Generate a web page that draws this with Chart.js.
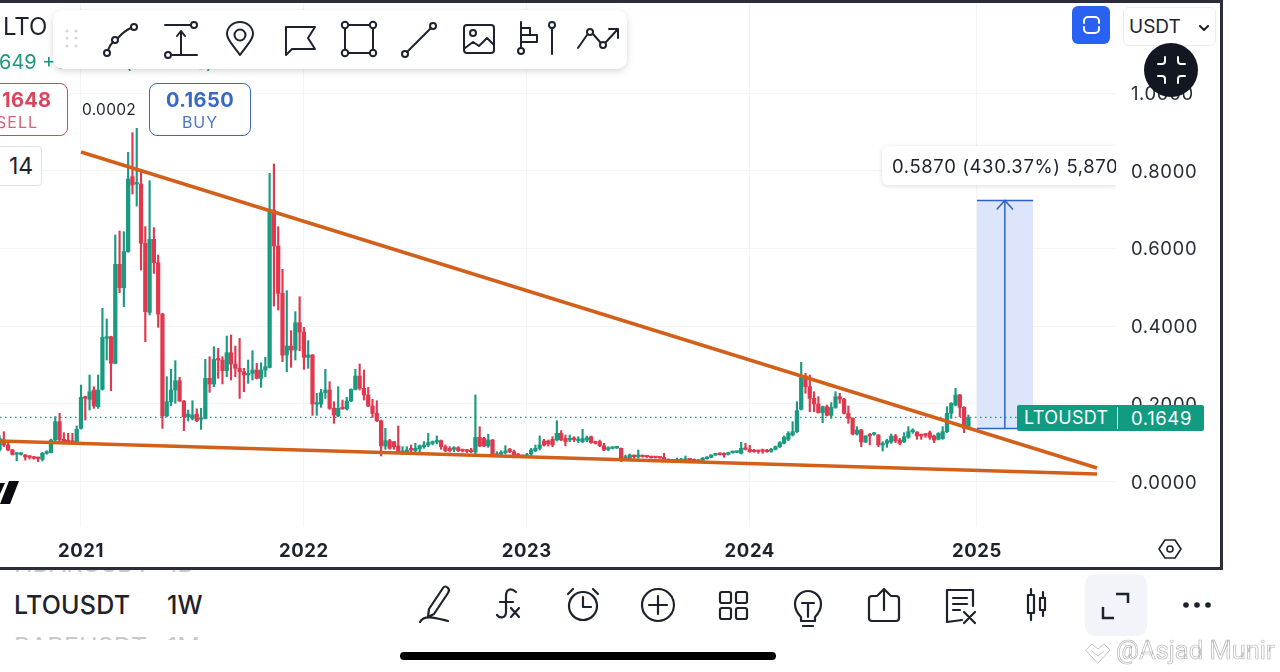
<!DOCTYPE html>
<html>
<head>
<meta charset="utf-8">
<title>LTOUSDT 1W</title>
<script src="https://cdn.jsdelivr.net/npm/chart.js@4"></script>
<style>
	html, body { margin: 0; padding: 0; background: #fff; }
	body { width: 1280px; height: 672px; position: relative; overflow: hidden; font-family: Inter, "Noto Sans", sans-serif; color: #1e222d; }
	#frame { position: absolute; left: 0; top: 0; width: 1223px; height: 570px; box-sizing: border-box; border-top: 3px solid #2c2d3a; border-right: 3px solid #2c2d3a; border-bottom: 3px solid #2c2d3a; }
	#chart { display: block; }
	.abs { position: absolute; white-space: nowrap; }
	.box { position: absolute; box-sizing: border-box; background: #fff; }
	#icons { position: absolute; left: 0; top: 0; }
</style>
</head>
<body>
<div id="frame"><canvas id="chart" width="1220" height="564"></canvas></div>

<!-- header text behind the drawing toolbar -->
<div class="abs" style="left:3px;top:12px;font-size:24px;">LTO</div>
<div class="abs" style="left:-1px;top:50px;font-size:20px;color:#1a9a80;">649 +0.0041 (+2.55%)</div>

<div class="box" style="left:-10px;top:83px;width:78px;height:53px;border:1.5px solid #d9455c;border-radius:8px;"></div>
<div class="abs" style="left:2px;top:88px;font-size:20px;font-weight:700;color:#d9455c;letter-spacing:.3px;">1648</div>
<div class="abs" style="left:-4px;top:112px;font-size:16px;color:#d9607a;letter-spacing:1px;">SELL</div>
<div class="abs" style="left:82px;top:100px;font-size:15.5px;letter-spacing:.3px;">0.0002</div>
<div class="box" style="left:149px;top:83px;width:102px;height:53px;border:1.5px solid #3b68c6;border-radius:8px;"></div>
<div class="abs" style="left:149px;width:102px;text-align:center;top:88px;font-size:20px;font-weight:700;color:#3b68c6;letter-spacing:.4px;">0.1650</div>
<div class="abs" style="left:149px;width:102px;text-align:center;top:112px;font-size:16px;color:#4d74c8;letter-spacing:1px;">BUY</div>
<div class="box" style="left:-8px;top:146px;width:50px;height:40px;border:1.5px solid #e2e2e2;border-radius:4px;"></div>
<div class="abs" style="left:9px;top:152px;font-size:23px;">14</div>

<!-- position tool label, cut at the price axis -->
<div class="box" style="left:882px;top:146px;width:234px;height:39px;border-radius:6px 0 0 6px;box-shadow:0 1px 5px rgba(0,0,0,.14);clip-path:inset(-8px 0 -8px -8px);"></div>
<div class="abs" style="left:892px;top:155px;font-size:18.5px;letter-spacing:.6px;width:224px;overflow:hidden;">0.5870 (430.37%) 5,870</div>

<!-- last price tag -->
<div class="box" style="left:1017px;top:405px;width:187px;height:26px;background:#0f9c80;border-radius:2px;"></div>
<div class="abs" style="left:1024px;top:407px;font-size:18px;letter-spacing:.3px;color:#fff;">LTOUSDT</div>
<div class="box" style="left:1117px;top:407px;width:1px;height:22px;background:#d5efe9;"></div>
<div class="abs" style="left:1131px;top:407px;font-size:18.5px;letter-spacing:.6px;color:#fff;">0.1649</div>

<!-- drawing toolbar -->
<div class="box" style="left:53px;top:10px;width:574px;height:59px;border-radius:10px;box-shadow:0 2px 7px rgba(0,0,0,.16);"></div>

<!-- top right buttons -->
<div class="box" style="left:1072px;top:6px;width:38px;height:38px;background:#2962f0;border-radius:6px;"></div>
<div class="box" style="left:1123px;top:7px;width:93px;height:39px;border:1.5px solid #ececec;border-radius:6px;"></div>
<div class="abs" style="left:1129px;top:15px;font-size:19px;">USDT</div>

<!-- bottom bar -->
<div class="abs" style="left:0;top:570px;width:300px;height:8px;overflow:hidden;color:#c9c9c9;font-size:25px;"><span class="abs" style="left:14px;top:-22px;">HBARUSDT</span><span class="abs" style="left:167px;top:-22px;">1D</span></div>
<div class="abs" style="left:14px;top:590px;font-size:25px;font-weight:500;letter-spacing:.2px;">LTOUSDT</div>
<div class="abs" style="left:167px;top:590px;font-size:25px;font-weight:500;">1W</div>
<div class="abs" style="left:0;top:632px;width:300px;height:8px;overflow:hidden;color:#c9c9c9;font-size:25px;"><span class="abs" style="left:14px;top:0;">BABEUSDT</span><span class="abs" style="left:167px;top:0;">1M</span></div>
<div class="box" style="left:1085px;top:574px;width:62px;height:62px;background:#f2f4f9;border-radius:10px;"></div>
<div class="box" style="left:400px;top:652px;width:376px;height:8px;background:#000;border-radius:4px;"></div>

<svg id="icons" width="1280" height="672" fill="none" stroke="#1e222d" stroke-width="2" stroke-linecap="round" stroke-linejoin="round">
	<!-- cut off logo in the chart corner -->
	<path d="M9 481H19L10 504H0ZM0 483H5L0 494Z" fill="#0c0c10" stroke="none"/>
	<!-- toolbar icons -->
	<g fill="#d5d5d5" stroke="none"><circle cx="67" cy="31" r="1.5"/><circle cx="76" cy="31" r="1.5"/><circle cx="67" cy="38" r="1.5"/><circle cx="76" cy="38" r="1.5"/><circle cx="67" cy="46" r="1.5"/><circle cx="76" cy="46" r="1.5"/></g>
	<circle cx="107" cy="53" r="3"/><circle cx="115" cy="40" r="3"/><circle cx="134" cy="27" r="3"/><path d="M108 50Q110 45 113 42M118 38Q124 31 131 28"/>
	<path d="M165 25H191M171 55H197M181 55V32M177 36L181 31L185 36"/><circle cx="194" cy="25" r="3"/><circle cx="168" cy="55" r="3"/>
	<path d="M240 55C233 45 227 40 227 34C227 27 233 22 240 22C247 22 253 27 253 34C253 40 247 45 240 55Z"/><circle cx="240" cy="35" r="5.5"/>
	<path d="M286 55V27H315L308 38L315 49H292Z"/>
	<path d="M345 25H373V53H345Z"/><g fill="#fff"><circle cx="345" cy="25" r="3.2"/><circle cx="373" cy="25" r="3.2"/><circle cx="345" cy="53" r="3.2"/><circle cx="373" cy="53" r="3.2"/></g>
	<path d="M407 52L431 28"/><circle cx="405" cy="54" r="3"/><circle cx="433" cy="26" r="3"/>
	<rect x="464" y="25" width="30" height="28" rx="3"/><circle cx="473" cy="33" r="3"/><path d="M465 48L473 42L479 46L487 38L494 45"/>
	<path d="M521 22V48M521 28H530V35H521M521 35H537V42H521"/><circle cx="521" cy="51" r="3"/><circle cx="552" cy="25" r="3"/><path d="M552 28V54"/>
	<path d="M578 48L587 35M593 34L600 42M606 42L617 30M609 29H618V38"/><circle cx="590" cy="32" r="3"/><circle cx="603" cy="45" r="3"/>
	<!-- top right button glyphs -->
	<path d="M1084 24V22A4 4 0 0 1 1088 18H1095A4 4 0 0 1 1099 22V24M1084 28V30A4 4 0 0 0 1088 34H1095A4 4 0 0 0 1099 30V28" stroke="#fff" transform="translate(0,-1)"/>
	<path d="M1200 26L1204 30L1208 26"/>
	<circle cx="1171" cy="70" r="27" fill="#131722" stroke="none"/>
	<path d="M1158 64H1162A3 3 0 0 0 1165 61V57M1185 64H1181A3 3 0 0 1 1178 61V57M1158 76H1162A3 3 0 0 1 1165 79V83M1185 76H1181A3 3 0 0 0 1178 79V83" stroke="#fff"/>
	<!-- axis settings -->
	<path d="M1159 549L1165 540H1175L1181 549L1175 558H1165Z" stroke-width="1.6"/><circle cx="1170" cy="549" r="3" stroke-width="1.6"/>
	<!-- bottom bar icons -->
	<g stroke-width="2.2">
		<path d="M429 609L443 588Q445 585 448 588Q450 590 448 593L434 614L428 617ZM420 622C424 614 436 618 448 621"/>
		<path d="M516 592C510 587 506 590 506 596V612C506 618 500 619 497 615M500 602H513M511 608L519 617M519 608L511 617"/>
		<circle cx="583" cy="606" r="14"/><path d="M583 597V607H591M568 594L573 589M598 594L593 589"/>
		<circle cx="658" cy="605" r="16"/><path d="M658 596V614M649 605H667"/>
		<rect x="720" y="592" width="11" height="11" rx="2"/><rect x="736" y="592" width="11" height="11" rx="2"/><rect x="720" y="608" width="11" height="11" rx="2"/><rect x="736" y="608" width="11" height="11" rx="2"/>
		<path d="M801 617C797 613 795 609 795 604C795 597 801 591 808 591C815 591 821 597 821 604C821 609 819 613 815 617V621H801ZM802 603H814M808 603V617M803 626H813"/>
		<path d="M877 596H872A3 3 0 0 0 869 599V618A3 3 0 0 0 872 621H896A3 3 0 0 0 899 618V599A3 3 0 0 0 896 596H891M884 610V590M878 595L884 589L890 595"/>
		<path d="M962 620L947 622V590H973V606M953 598H967M953 604H967M953 610H960M964 612L975 623M975 612L964 623"/>
		<path d="M1028 595H1034V613H1028ZM1031 589V595M1031 613V620M1040 598H1045V610H1040ZM1043 592V598M1043 610V616"/>
		<path d="M1116 594H1128V603M1103 607V618H1114" stroke-width="2.5" stroke-linecap="butt" stroke-linejoin="miter"/>
	</g>
	<g fill="#1e222d" stroke="none"><circle cx="1186" cy="605" r="2.8"/><circle cx="1197" cy="605" r="2.8"/><circle cx="1208" cy="605" r="2.8"/></g>
	<!-- watermark -->
	<path d="M1086 650L1092 644L1098 649L1104 644L1110 650L1098 663ZM1092 651L1098 656L1104 651" stroke="#c4c4c4" stroke-width="1"/>
	<text x="1116" y="659" font-family="Roboto, sans-serif" font-size="25.5" fill="#fff" stroke="#b5b5b5" stroke-width="0.7">@Asjad Munir</text>
</svg>

<script>
	// weeks are counted from the first bar of 2021
	var firstWeek = -19;
	var xMin = -18.894, xMax = 241.43;
	var yMin = -0.1171, yMax = 1.2317;

	var yearWeeks = [0, 52, 104, 156, 209];
	var yearLabels = ['2021', '2022', '2023', '2024', '2025'];
	var priceTicks = [0, 0.2, 0.4, 0.6, 0.8, 1.0];

	var weekOpen = [
		.0811,.1068,.0940,.0811,.0700,.0700,.0682,.0656,.0639,.0610,
		.0571,.0725,.0742,.1068,.1540,.1085,.1068,.1051,.1000,
		.1369,.2183,.2115,.2355,.1926,.2372,.3685,.3728,.3041,.5590,
		.4989,.5916,.7846,.7658,.7658,.6130,.4354,.6233,.5633,.4312,
		.1686,.2055,.2355,.2595,.2072,.1669,.1625,.1737,.1600,.1625,
		.2655,.2509,.3144,.3127,.2853,.3316,.3024,.2913,.2827,.2741,
		.2784,.2870,.2655,.2870,.2938,.6988,.6061,.4843,.3256,.3487,
		.3384,.4088,.3848,.3196,.3256,.1990,.1994,.2286,.2355,.1883,
		.1686,.1883,.1870,.2072,.2372,.2715,.2398,.2226,.1943,.1754,
		.1566,.0913,.1051,.1026,.0914,.0743,.0768,.0830,.0794,.0846,
		.0897,.0940,.0983,.1017,.1051,.0897,.0854,.0828,.0871,.0811,
		.0785,.0777,.0760,.1137,.1111,.0914,.1068,.0674,.0708,.0743,
		.0828,.0768,.0700,.0674,.0640,.0708,.0794,.0854,.1043,.1043,
		.1086,.1069,.1240,.1111,.1069,.1095,.1051,.1026,.1068,.1154,
		.1026,.1026,.0922,.0828,.0854,.0862,.0854,.0571,.0596,.0657,
		.0639,.0665,.0657,.0639,.0631,.0622,.0622,.0571,.0554,.0528,
		.0536,.0545,.0579,.0571,.0519,.0536,.0588,.0622,.0682,.0725,
		.0708,.0700,.0742,.0751,.0725,.0854,.0828,.0794,.0794,.0794,
		.0785,.0777,.0828,.0897,.0983,.1086,.1197,.1283,.1858,.2716,
		.2441,.2141,.1995,.1772,.1926,.1703,.1909,.2184,.2124,.1755,
		.1626,.1223,.1326,.1017,.1197,.1214,.1197,.0940,.0983,.1017,
		.1171,.1068,.1026,.1137,.1283,.1274,.1197,.1205,.1257,.1171,
		.1086,.1103,.1283,.1755,.1969,.2227,.1909,.1369
	];
	var weekClose = [
		.1111,.0940,.0811,.0699,.0725,.0725,.0630,.0622,.0596,.0590,
		.0725,.0768,.1068,.1540,.1068,.1025,.1017,.0983,.1343,
		.2166,.2141,.2312,.1943,.2355,.3711,.3728,.3041,.5590,.4989,
		.5916,.7786,.7632,.7675,.6130,.4372,.6233,.5633,.4312,.1686,
		.2055,.2355,.2595,.2072,.1669,.1737,.1711,.1566,.1625,.2655,
		.2509,.3144,.3127,.2853,.3316,.3024,.2913,.2827,.2741,.2784,
		.2870,.2655,.2870,.2955,.6988,.6061,.4843,.3256,.3487,.3384,
		.4088,.3848,.3196,.3256,.1994,.2012,.2286,.2355,.1883,.1711,
		.1883,.1870,.2072,.2372,.2715,.2398,.2226,.1943,.1754,.1566,
		.0913,.1051,.0854,.0897,.0768,.0785,.0811,.0810,.0854,.0914,
		.0940,.1000,.1026,.1051,.0897,.0794,.0794,.0871,.0794,.0785,
		.0777,.0768,.1137,.0914,.0914,.1068,.0683,.0708,.0743,.0768,
		.0768,.0683,.0657,.0640,.0691,.0811,.0854,.0940,.0940,.0966,
		.0940,.1240,.1069,.1026,.1111,.1080,.1086,.1103,.1128,.1000,
		.0983,.0922,.0811,.0871,.0880,.0880,.0571,.0639,.0682,.0639,
		.0682,.0639,.0631,.0614,.0614,.0605,.0554,.0536,.0528,.0554,
		.0554,.0579,.0554,.0528,.0554,.0596,.0622,.0682,.0717,.0691,
		.0682,.0742,.0768,.0768,.0854,.0828,.0768,.0768,.0768,.0777,
		.0768,.0828,.0897,.1000,.1137,.1240,.1283,.1823,.2716,.2441,
		.2141,.1995,.1772,.1926,.1703,.1909,.2184,.2124,.1755,.1626,
		.1223,.1326,.1017,.1171,.1171,.1240,.0940,.0983,.1051,.1171,
		.1051,.0983,.1154,.1283,.1326,.1171,.1171,.1188,.1137,.1068,
		.1240,.1283,.1755,.2012,.2227,.1909,.1369,.1649
	];
	var weekHigh = [
		.1180,.1283,.0990,.0830,.0740,.0735,.0700,.0665,.0650,.0625,
		.0750,.0790,.1090,.1669,.1755,.1257,.1240,.1240,.1430,
		.2484,.2200,.2741,.2441,.2741,.4457,.4183,.3740,.6345,.6448,
		.6431,.8473,.8979,.9091,.8018,.6559,.7743,.6534,.5830,.4330,
		.2698,.2887,.3110,.2681,.2085,.1840,.2080,.1870,.1883,.3144,
		.3213,.3470,.3427,.3213,.3745,.3771,.3487,.3685,.2913,.3127,
		.3367,.3041,.3058,.3196,.7932,.8172,.6559,.5461,.4912,.3882,
		.4371,.4757,.3968,.3625,.3270,.2269,.2372,.2887,.2569,.2055,
		.2441,.2097,.2166,.2385,.2887,.3024,.2870,.2423,.2115,.2080,
		.1580,.1368,.1086,.1030,.1429,.0897,.0897,.0940,.0983,.0940,
		.1026,.1240,.1043,.1172,.1068,.0940,.0897,.0897,.0897,.0837,
		.0828,.0854,.2227,.1412,.1137,.1214,.1085,.0768,.0794,.0923,
		.0854,.0811,.0725,.0690,.0725,.0854,.0940,.1172,.1086,.1068,
		.1154,.1566,.1309,.1197,.1197,.1154,.1154,.1343,.1171,.1171,
		.1040,.1068,.0983,.0897,.0890,.0885,.0862,.0682,.0708,.0682,
		.0811,.0680,.0665,.0650,.0640,.0630,.0725,.0580,.0560,.0605,
		.0596,.0657,.0590,.0580,.0565,.0622,.0640,.0690,.0730,.0740,
		.0742,.0755,.0785,.0785,.1008,.0983,.0931,.0828,.0810,.0837,
		.0828,.0854,.0915,.1026,.1171,.1283,.1540,.2055,.3068,.2784,
		.2741,.2312,.2184,.1943,.1969,.2029,.2312,.2270,.2141,.1944,
		.1640,.1412,.1343,.1180,.1240,.1260,.1205,.1026,.1086,.1223,
		.1214,.1111,.1257,.1412,.1360,.1283,.1223,.1240,.1300,.1197,
		.1257,.1412,.1926,.2029,.2398,.2244,.1926,.1712
	];
	var weekLow = [
		.0780,.0900,.0790,.0680,.0536,.0680,.0553,.0580,.0575,.0511,
		.0530,.0700,.0735,.1050,.1040,.1000,.0990,.0960,.0985,
		.1350,.1583,.1840,.1883,.1883,.2355,.3127,.2338,.3030,.4861,
		.4500,.5900,.7400,.7091,.5444,.3599,.4286,.5358,.3968,.1369,
		.1670,.1952,.2012,.2060,.1309,.1557,.1583,.1540,.1342,.1610,
		.2295,.2441,.2655,.2509,.2698,.2612,.2698,.2140,.2312,.2526,
		.2612,.2640,.2423,.2698,.2920,.4517,.4414,.3084,.2827,.2938,
		.3127,.3367,.2887,.2913,.1703,.1703,.1909,.2140,.1857,.1497,
		.1668,.1857,.1840,.2055,.2355,.2355,.2097,.1926,.1651,.1540,
		.0656,.0828,.0828,.0828,.0743,.0708,.0708,.0743,.0743,.0760,
		.0854,.0897,.0940,.0966,.0828,.0768,.0760,.0768,.0768,.0760,
		.0743,.0743,.0640,.0897,.0897,.0880,.0657,.0657,.0683,.0708,
		.0743,.0622,.0622,.0622,.0622,.0657,.0768,.0811,.0914,.0914,
		.0897,.1043,.1051,.0914,.1026,.1026,.1000,.1000,.1026,.0983,
		.0965,.0897,.0794,.0794,.0840,.0850,.0511,.0536,.0554,.0596,
		.0596,.0625,.0620,.0600,.0600,.0595,.0528,.0525,.0515,.0494,
		.0502,.0519,.0540,.0515,.0505,.0502,.0575,.0610,.0670,.0680,
		.0622,.0680,.0730,.0740,.0708,.0811,.0751,.0751,.0725,.0725,
		.0751,.0751,.0810,.0871,.0965,.1051,.1171,.1257,.1840,.2270,
		.1798,.1798,.1760,.1515,.1686,.1626,.1884,.2012,.1738,.1497,
		.1197,.1197,.0897,.1000,.0940,.1190,.0897,.0785,.0880,.0983,
		.1000,.0940,.1000,.1111,.1240,.1086,.1086,.1137,.1086,.1000,
		.1068,.1086,.1257,.1626,.1944,.1669,.1257,.1352
	];

	// drawn trend lines, last price and the long position tool
	var upperTrendX = [0, 237], upperTrendY = [0.8481, 0.0347];
	var lowerTrendX = [-18.894, 237], lowerTrendY = [0.1042, 0.0193];
	var lastPrice = 0.1649;
	var lastPriceX = [-18.894, 218.3];
	var entryPrice = 0.1364, targetPrice = 0.7234;
	var positionX = [209, 222.1];
	var arrowX = [215.5, 215.5];
	var arrowHeadX = [213.6, 215.5, 217.4], arrowHeadY = [0.700, 0.7234, 0.700];

	var upColor = '#1a9a80', downColor = '#e0394f';

	function points(xs, ys) {
		return xs.map(function(x, i) { return { x: x, y: ys[i] }; });
	}

	function candleColors() {
		return weekOpen.map(function(open, i) {
			return weekClose[i] >= open ? upColor : downColor;
		});
	}

	var wicks = weekLow.map(function(low, i) { return { x: firstWeek + i, y: [low, weekHigh[i]] }; });
	var bodies = weekOpen.map(function(open, i) { return { x: firstWeek + i, y: [open, weekClose[i]] }; });

	function lineSet(data, color, width, order) {
		return { type: 'line', data: data, borderColor: color, borderWidth: width, pointRadius: 0, tension: 0, fill: false, order: order };
	}

	var targetLine = lineSet(points(positionX, [targetPrice, targetPrice]), '#2f62c9', 1.5, 4);
	targetLine.fill = { target: { value: entryPrice } };
	targetLine.backgroundColor = '#dce5fa';

	var priceLine = lineSet(points(lastPriceX, [lastPrice, lastPrice]), '#0f9c80', 1.3, 3);
	priceLine.borderDash = [1.5, 3.5];

	// axis labels in the reference are set a little wider than the plain font
	var axisLetterSpacing = {
		id: 'axisLetterSpacing',
		beforeDraw: function(chart) {
			chart.ctx.letterSpacing = '0.6px';
		}
	};

	new Chart(document.getElementById('chart'), {
		type: 'bar',
		plugins: [axisLetterSpacing],
		data: {
			datasets: [
				lineSet(points(upperTrendX, upperTrendY), '#d2601a', 3.5, 0),
				lineSet(points(lowerTrendX, lowerTrendY), '#d2601a', 3.5, 0),
				{ data: bodies, backgroundColor: candleColors(), barThickness: 3.6, minBarLength: 1.6, grouped: false, order: 1 },
				{ data: wicks, backgroundColor: candleColors(), barThickness: 1.5, grouped: false, order: 2 },
				priceLine,
				lineSet(points(positionX, [entryPrice, entryPrice]), '#2f62c9', 1.5, 3),
				lineSet(points(arrowX, [entryPrice, targetPrice]), '#2f62c9', 1.5, 3),
				lineSet(points(arrowHeadX, arrowHeadY), '#2f62c9', 1.5, 3),
				targetLine
			]
		},
		options: {
			responsive: false,
			animation: false,
			layout: { padding: 0 },
			plugins: { legend: { display: false }, tooltip: { enabled: false } },
			scales: {
				x: {
					type: 'linear',
					min: xMin,
					max: xMax,
					offset: false,
					grid: { color: '#f4f4f6', drawTicks: false, offset: false },
					border: { display: false },
					ticks: {
						autoSkip: false,
						maxRotation: 0,
						padding: 13,
						color: '#1e222d',
						font: { family: 'Inter', size: 18.5, weight: '700' },
						callback: function(value) { return yearLabels[yearWeeks.indexOf(value)]; }
					},
					afterBuildTicks: function(scale) {
						scale.ticks = yearWeeks.map(function(w) { return { value: w }; });
					},
					afterFit: function(scale) {
						scale.height = 40;
						scale.paddingLeft = 0;
						scale.paddingRight = 0;
					}
				},
				y: {
					position: 'right',
					min: yMin,
					max: yMax,
					grid: { color: '#f4f4f6', drawTicks: false },
					border: { display: false },
					ticks: {
						padding: 15,
						labelOffset: 1.5,
						color: '#2a2e39',
						font: { family: 'Inter', size: 18.5 },
						callback: function(value) { return value.toFixed(4); }
					},
					afterBuildTicks: function(scale) {
						scale.ticks = priceTicks.map(function(v) { return { value: v }; });
					},
					afterFit: function(scale) {
						scale.width = 104;
						scale.paddingTop = 0;
						scale.paddingBottom = 0;
					}
				}
			}
		}
	});
</script>
</body>
</html>
